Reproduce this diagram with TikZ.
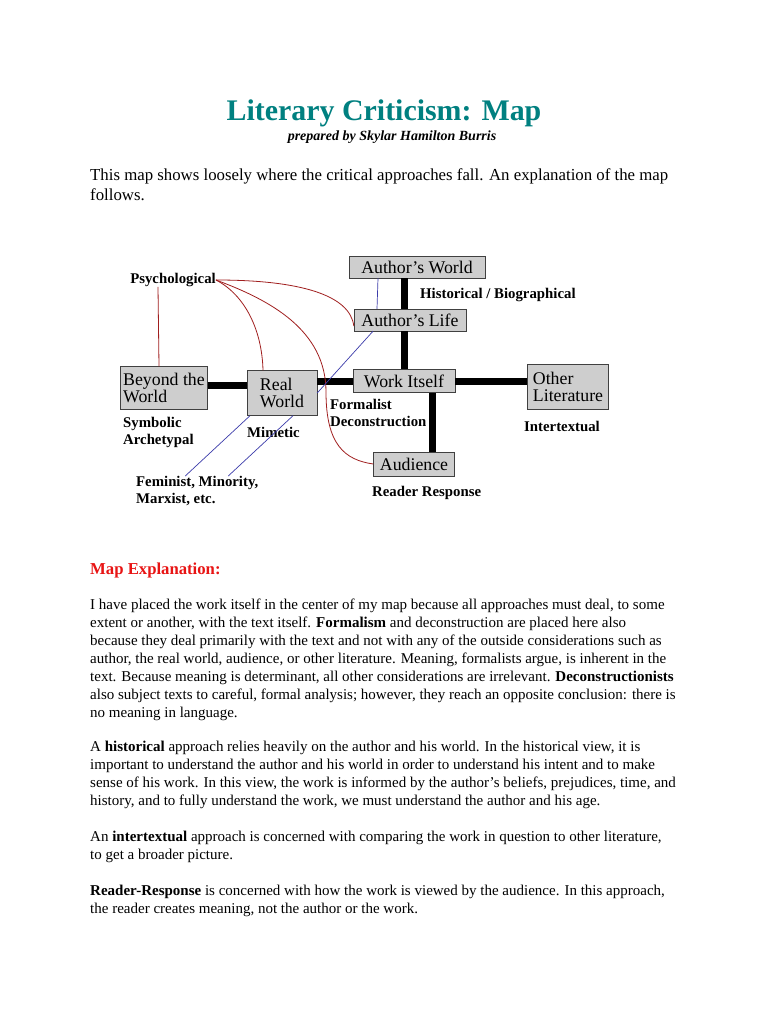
\documentclass[tikz,border=0pt]{standalone}
\usepackage{fontspec}
\setmainfont{Liberation Serif}
\usetikzlibrary{positioning,calc}
\definecolor{TitleTeal}{RGB}{0,128,128}
\definecolor{HeadRed}{RGB}{232,20,20}
\definecolor{CurveRed}{RGB}{160,30,30}
\definecolor{LineBlue}{RGB}{60,60,170}
\definecolor{BoxGray}{RGB}{206,206,206}

\begin{document}
\begin{tikzpicture}[x=1pt,y=-1pt,
  mapbox/.style={draw=black!75, fill=BoxGray, inner sep=0pt, inner xsep=2pt, align=left,
                 font=\fontsize{17.8}{17}\selectfont},
  tag/.style={inner sep=0pt, align=left, font=\fontsize{14.8}{17}\selectfont\bfseries},
  link/.style={line width=7pt},
  psy/.style={CurveRed, line width=0.8pt},
  mim/.style={LineBlue, line width=0.7pt},
  body/.style={inner sep=0pt, anchor=north west, align=left,
               font=\fontsize{15}{18}\selectfont}]
\useasboundingbox (0,0) rectangle (768,1024);
\fill[white] (0,0) rectangle (768,1024);

% heading
\node[font=\fontsize{29.9}{30}\selectfont\bfseries, text=TitleTeal] (title) at (384,113) {Literary Criticism: Map};
\node[font=\fontsize{14}{15}\selectfont\bfseries\itshape] (byline) at (392,137) {prepared by Skylar Hamilton Burris};
\node[body, font=\fontsize{16.8}{20}\selectfont] (intro) at (90,168) {This map shows loosely where the critical approaches fall. An explanation of the map\\follows.};

% boxes of the map
\node[mapbox, minimum width=136, minimum height=22] (aworld) at (417,267) {Author's World};
\node[mapbox, minimum width=112, minimum height=22] (alife) at (410,320) {Author's Life};
\node[mapbox, minimum width=102, minimum height=23] (work) at (404,381) {Work Itself};
\node[mapbox, minimum width=81, minimum height=45] (other) at (568,387) {Other\\Literature};
\node[mapbox, minimum width=81, minimum height=24] (audience) at (414,464) {Audience};
\node[mapbox, minimum width=70, minimum height=45] (realw) at (282,393) {Real\\World};
\node[mapbox, minimum width=87, minimum height=43] (beyond) at (164,388) {Beyond the\\World};

% thick links
\draw[link] (aworld.south -| work.north) -- (alife.north -| work.north);
\draw[link] (alife.south -| work.north) -- (work.north);
\draw[link] (work.east) -- (work.east -| other.west);
\draw[link] ([xshift=18]audience.north) -- ([xshift=18]audience.north |- work.south);
\draw[link] (realw.east |- work.west) -- (work.west);
\draw[link] ([yshift=3]beyond.east) -- ([yshift=3]beyond.east -| realw.west);

% approach labels
\node[tag] (psych) at (173,280) {Psychological};
\node[tag, anchor=west] (hist) at (420,295) {Historical / Biographical};
\node[tag, anchor=north west] (symb) at (123,417) {Symbolic\\Archetypal};
\node[tag, anchor=west] (mimetic) at (247,432) {Mimetic};
\node[tag, anchor=north west] (formal) at (330,399) {Formalist\\Deconstruction};
\node[tag, anchor=west] (intertext) at (524,426) {Intertextual};
\node[tag, anchor=north west] (feminist) at (136,476) {Feminist, Minority,\\Marxist, etc.};
\node[tag, anchor=west] (reader) at (372,493) {Reader Response};

% psychological curves
\coordinate (bend) at (326,392);
\draw[psy] ([xshift=-15]psych.south) -- ([xshift=-5]beyond.north);
\draw[psy] (psych.east) .. controls (245,295) and (262,330) .. ([xshift=-19]realw.north);
\draw[psy] (psych.east) .. controls (300,280) and (350,295) .. ([yshift=-6]alife.west);
\draw[psy] (psych.east) .. controls (270,300) and (326,330) .. (bend)
  .. controls (326,445) and (345,460) .. (audience.west);

% mimetic lines
\draw[mim] ([xshift=-39]aworld.south) -- ([xshift=-33]alife.north);
\draw[mim] ([xshift=-37]alife.south) -- (realw.east);
\draw[mim] ([xshift=-32]realw.south) -- ([xshift=-12]feminist.north);
\draw[mim] ([xshift=11]realw.south) -- ([xshift=31]feminist.north);

% explanation
\node[anchor=west, inner sep=0pt, text=HeadRed, font=\fontsize{16.7}{18}\selectfont\bfseries] (mapexp) at (90,570) {Map Explanation:};
\node[body] (para1) at (90,599) {I have placed the work itself in the center of my map because all approaches must deal, to some\\
extent or another, with the text itself. \textbf{Formalism} and deconstruction are placed here also\\
because they deal primarily with the text and not with any of the outside considerations such as\\
author, the real world, audience, or other literature. Meaning, formalists argue, is inherent in the\\
text. Because meaning is determinant, all other considerations are irrelevant. \textbf{Deconstructionists}\\
also subject texts to careful, formal analysis; however, they reach an opposite conclusion: there is\\
no meaning in language.};
\node[body] (para2) at (90,741) {A \textbf{historical} approach relies heavily on the author and his world. In the historical view, it is\\
important to understand the author and his world in order to understand his intent and to make\\
sense of his work. In this view, the work is informed by the author's beliefs, prejudices, time, and\\
history, and to fully understand the work, we must understand the author and his age.};
\node[body] (para3) at (90,831) {An \textbf{intertextual} approach is concerned with comparing the work in question to other literature,\\
to get a broader picture.};
\node[body] (para4) at (90,885) {\textbf{Reader-Response} is concerned with how the work is viewed by the audience. In this approach,\\
the reader creates meaning, not the author or the work.};
\end{tikzpicture}
\end{document}
